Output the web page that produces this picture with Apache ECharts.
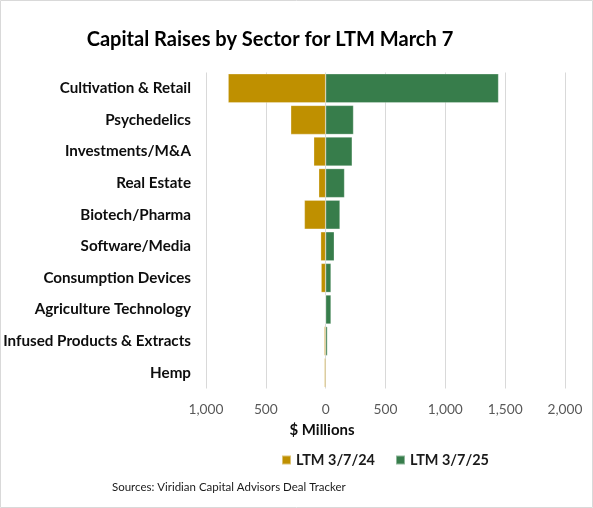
<!DOCTYPE html>
<html>
<head>
<meta charset="utf-8">
<script src="https://cdn.jsdelivr.net/npm/echarts@6/dist/echarts.min.js"></script>
<style>
html,body{margin:0;padding:0;background:#fff;}
#c{width:593px;height:508px;}
</style>
</head>
<body>
<div id="c"></div>
<script>
const categories = ['Cultivation & Retail','Psychedelics','Investments/M&A','Real Estate','Biotech/Pharma','Software/Media','Consumption Devices','Agriculture Technology','Infused Products & Extracts','Hemp'];
const ltm24 = [-815, -292, -100, -58, -178, -42, -38, 0, -12, -12];
const ltm25 = [1445, 233, 222, 158, 120, 72, 45, 45, 15, 0];
const seriesNames = ['LTM 3/7/24','LTM 3/7/25'];
const xTicks = {min: -1000, max: 2000, interval: 500};
const titleText = 'Capital Raises by Sector for LTM March 7';
const axisName = '$ Millions';
const sourceText = 'Sources: Viridian Capital Advisors Deal Tracker';

const FAMILY = 'Lato';
const mctx = document.createElement('canvas').getContext('2d');
function fit(text, weight, target) {
  mctx.font = weight + ' 100px ' + FAMILY;
  return 100 * target / mctx.measureText(text).width;
}
const titleSize = fit(titleText, 'bold', 367);
const catSize = fit('Infused Products & Extracts', 'bold', 188);
const tickSize = fit('1,000', 'normal', 35);
const nameSize = fit(axisName, 'bold', 65);
const legendSize = fit(seriesNames[0], 'bold', 79);
const sourceSize = fit(sourceText, 'normal', 234);

const chart = echarts.init(document.getElementById('c'), null, {renderer: 'canvas'});
chart.setOption({
  animation: false,
  legend: {
    data: seriesNames,
    left: 281, top: 451, padding: 0,
    itemWidth: 9, itemHeight: 9, itemGap: 20,
    icon: 'rect',
    textStyle: {fontFamily: FAMILY, fontWeight: 'bold', fontSize: legendSize, lineHeight: 18, color: '#1a1a1a'}
  },
  grid: {left: 206, right: 28, top: 72.5, bottom: 119.5, containLabel: false},
  xAxis: {
    type: 'value', min: xTicks.min, max: xTicks.max, interval: xTicks.interval,
    axisLine: {show: false}, axisTick: {show: false},
    splitLine: {lineStyle: {color: '#d9d9d9', width: 1}},
    axisLabel: {
      margin: 12, fontFamily: FAMILY, fontSize: tickSize, lineHeight: 18, color: '#595959',
      formatter: v => Math.abs(v).toLocaleString('en-US')
    }
  },
  yAxis: {
    type: 'category', data: categories, inverse: true,
    axisLine: {show: false}, axisTick: {show: false},
    axisLabel: {margin: 15, fontFamily: FAMILY, fontWeight: 'bold', fontSize: catSize, color: '#0d0d0d'}
  },
  graphic: [
    {type: 'rect', shape: {x: 0.5, y: 0.5, width: 592, height: 507}, style: {fill: 'none', stroke: '#d9d9d9', lineWidth: 1}, silent: true},
    {type: 'text', x: 270, y: 39.5, style: {text: titleText, fontFamily: FAMILY, fontWeight: 'bold', fontSize: titleSize, fill: '#000', align: 'center', verticalAlign: 'middle'}},
    {type: 'text', x: 322, y: 430.5, style: {text: axisName, fontFamily: FAMILY, fontWeight: 'bold', fontSize: nameSize, fill: '#0d0d0d', align: 'center', verticalAlign: 'middle'}},
    {type: 'text', x: 112, y: 487.5, style: {text: sourceText, fontFamily: FAMILY, fontSize: sourceSize, fill: '#1a1a1a', align: 'left', verticalAlign: 'middle'}}
  ],
  series: [
    {name: seriesNames[0], type: 'bar', stack: 's', data: ltm24, barCategoryGap: '8%',
     itemStyle: {color: '#BF9000', borderColor: 'rgba(255,255,255,0.45)', borderWidth: 0.6}},
    {name: seriesNames[1], type: 'bar', stack: 's', data: ltm25, barCategoryGap: '8%',
     itemStyle: {color: '#377D4B', borderColor: 'rgba(255,255,255,0.45)', borderWidth: 0.6}}
  ]
});
</script>
</body>
</html>
